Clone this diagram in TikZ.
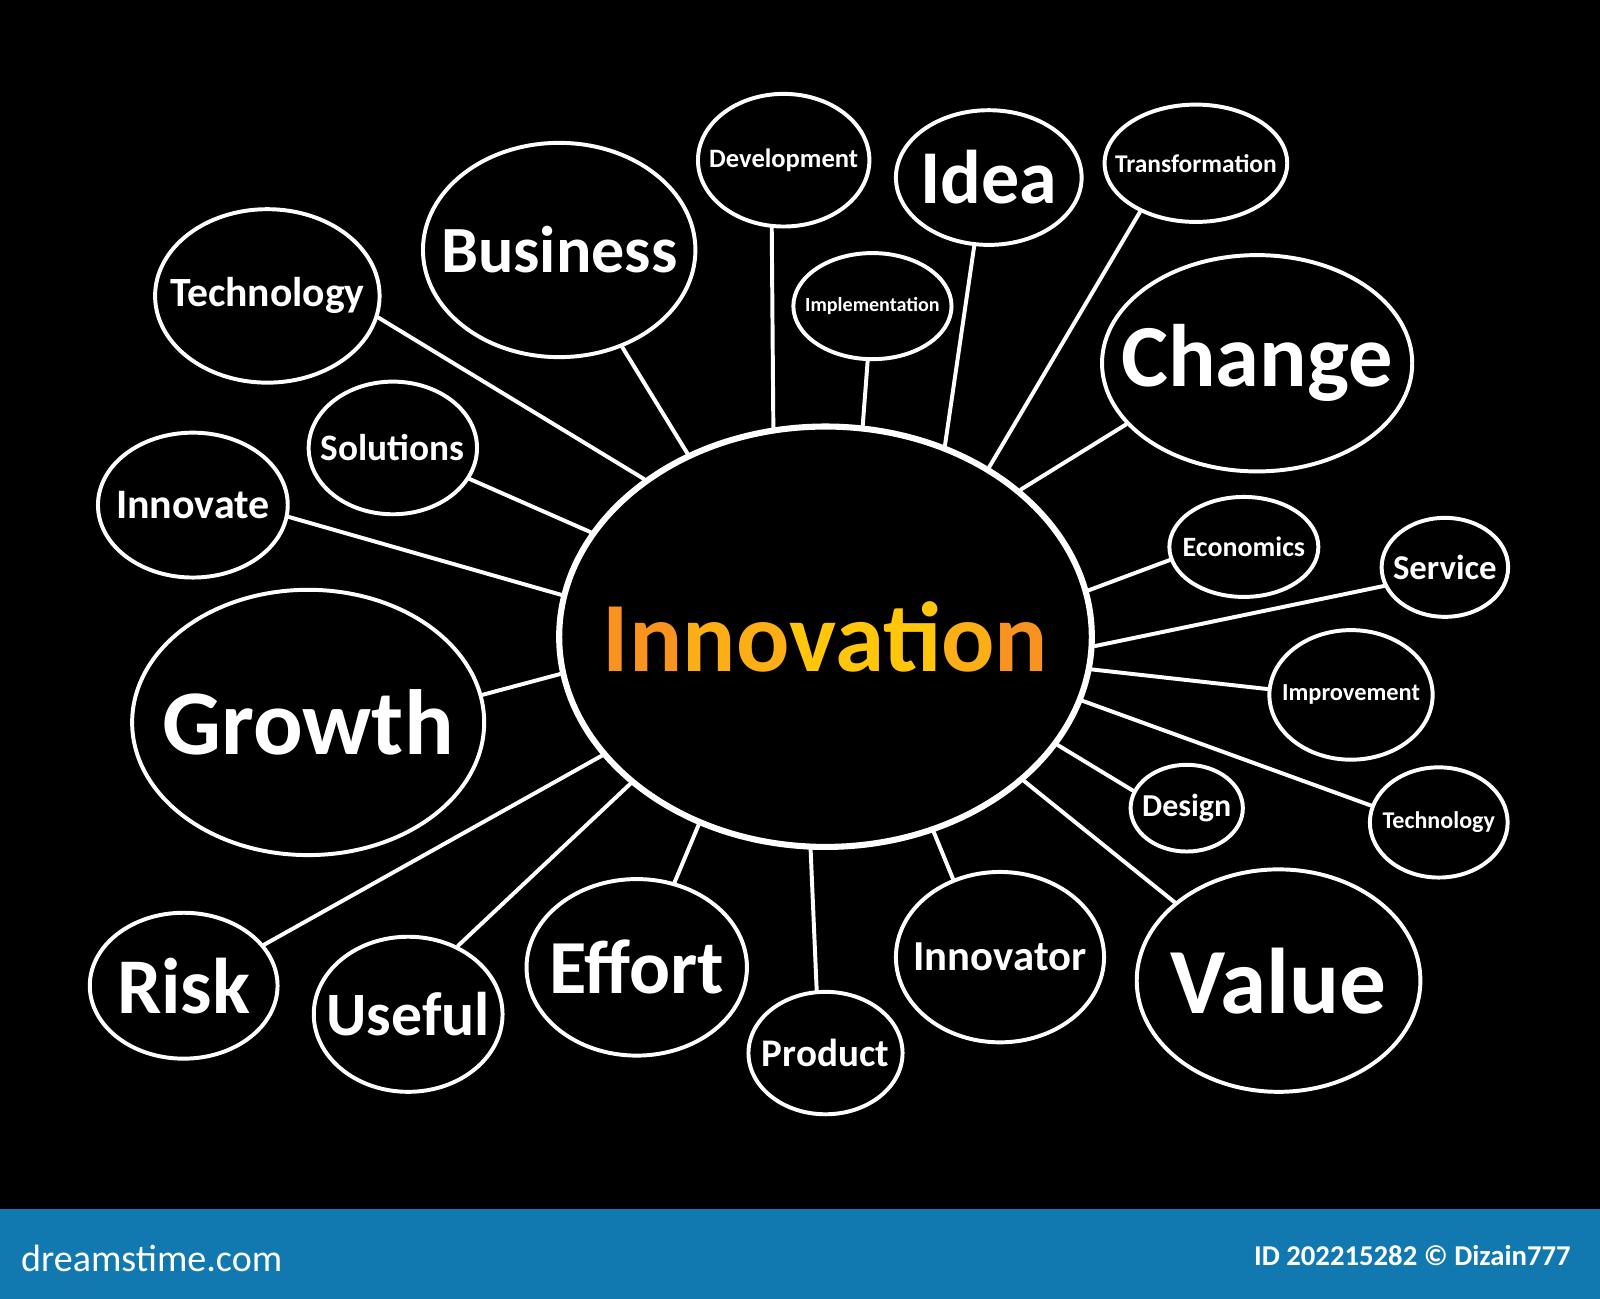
\documentclass[tikz,border=0pt]{standalone}
\usepackage{fontspec}
\setmainfont{Carlito}
\usetikzlibrary{shapes.geometric}
\definecolor{bg}{HTML}{000000}
\definecolor{ink}{HTML}{FFFFFF}
\definecolor{ora}{HTML}{F7931E}
\definecolor{amb}{HTML}{FCAE17}
\definecolor{yel}{HTML}{FFC60B}
\definecolor{bar}{HTML}{1279B0}
\newcommand\fsz[1]{\fontsize{#1}{#1}\selectfont\bfseries}
\tikzset{
  bubble/.style={ellipse, draw=ink, line width=1.1pt, inner sep=0pt},
  hub/.style={ellipse, draw=ink, line width=1.7pt, inner sep=0pt},
  word/.style={text=ink, inner sep=0pt},
  link/.style={draw=ink, line width=1.1pt, line cap=round},
  sz/.style 2 args={minimum width=#1*0.01cm, minimum height=#2*0.01cm},
  foot/.style={text=ink, inner sep=0pt},
}

\begin{document}
\begin{tikzpicture}[x=0.01cm, y=-0.01cm]
  \fill[bg] (0,0) rectangle (1568,1273);
  \useasboundingbox (0,0) rectangle (1568,1273);
  % centre
  \node[hub, sz={522}{412}, label={[word, font=\fsz{27.7}]center:%
    \color{ora}I\color{ora}n\color{amb}no\color{yel}vati\color{amb}o\color{ora}n}]
    (main) at (809,624) {};
  % top and left
  \node[bubble, sz={220}{170}, label={[word, font=\fsz{11.6}]center:Technology}] (techl) at (262,290) {};
  \node[bubble, sz={267}{210}, label={[word, font=\fsz{18.4}]center:Business}] (busi) at (548,245) {};
  \node[bubble, sz={168}{130}, label={[word, font=\fsz{7.4}]center:Development}] (devel) at (768,157) {};
  \node[bubble, sz={182}{132}, label={[word, font=\fsz{21.2}]center:Idea}] (idea) at (969,174) {};
  \node[bubble, sz={179}{115}, label={[word, font=\fsz{7.1}]center:Transformation}] (trans) at (1172,160) {};
  \node[bubble, sz={155}{104}, label={[word, font=\fsz{5.6}]center:Implementation}] (impl) at (855,300) {};
  \node[bubble, sz={304}{212}, label={[word, font=\fsz{24.7}]center:Change}] (change) at (1232,356) {};
  \node[bubble, sz={165}{130}, label={[word, font=\fsz{10.4}]center:Solutions}] (solu) at (385,439) {};
  \node[bubble, sz={186}{142}, label={[word, font=\fsz{11.7}]center:Innovate}] (innov) at (189,495) {};
  \node[bubble, sz={345}{260}, label={[word, font=\fsz{25.8}]center:Growth}] (growth) at (302,708) {};
  % right
  \node[bubble, sz={146}{98}, label={[word, font=\fsz{7.8}]center:Economics}] (econ) at (1219,536) {};
  \node[bubble, sz={124}{97}, label={[word, font=\fsz{9.7}]center:Service}] (service) at (1416,556) {};
  \node[bubble, sz={160}{127}, label={[word, font=\fsz{6.8}]center:Improvement}] (improve) at (1324,681) {};
  \node[bubble, sz={110}{85}, label={[word, font=\fsz{8.9}]center:Design}] (design) at (1163,792) {};
  \node[bubble, sz={135}{108}, label={[word, font=\fsz{6.7}]center:Technology}] (techr) at (1410,806) {};
  % bottom
  \node[bubble, sz={184}{143}, label={[word, font=\fsz{22}]center:Risk}] (risk) at (180,966) {};
  \node[bubble, sz={185}{152}, label={[word, font=\fsz{17.2}]center:Useful}] (useful) at (400,994) {};
  \node[bubble, sz={216}{173}, label={[word, font=\fsz{21.3}]center:Effort}] (effort) at (624,948) {};
  \node[bubble, sz={151}{120}, label={[word, font=\fsz{10.9}]center:Product}] (product) at (809,1032) {};
  \node[bubble, sz={204}{167}, label={[word, font=\fsz{11.9}]center:Innovator}] (innovator) at (980,938) {};
  \node[bubble, sz={278}{218}, label={[word, font=\fsz{26}]center:Value}] (value) at (1253,961) {};
  % spokes
  \foreach \n/\a/\b in {techl/-11/139, busi/-57/127, devel/-100/104,
      impl/-95/80, idea/-102/58, trans/-139/46, change/-155/37,
      solu/-22/156, innov/-7/171, econ/190/10, service/-163/-2,
      improve/176/-7, techr/166/-14, design/162/-25, value/143/-36,
      innovator/121/-61, product/98/-94, effort/66/-124,
      useful/54/-143, risk/27/-152, growth/9/-172}
    \draw[link] (\n.\a) -- (main.\b);
  % footer
  \fill[bar] (0,1185) rectangle (1568,1273);
  \node[foot, font=\fsz{10.6}\mdseries, anchor=west] (site) at (20,1233) {dreamstime.com};
  \node[foot, font=\fsz{8}, anchor=east] (credit) at (1540,1230) {ID 202215282 © Dizain777};
\end{tikzpicture}
\end{document}
